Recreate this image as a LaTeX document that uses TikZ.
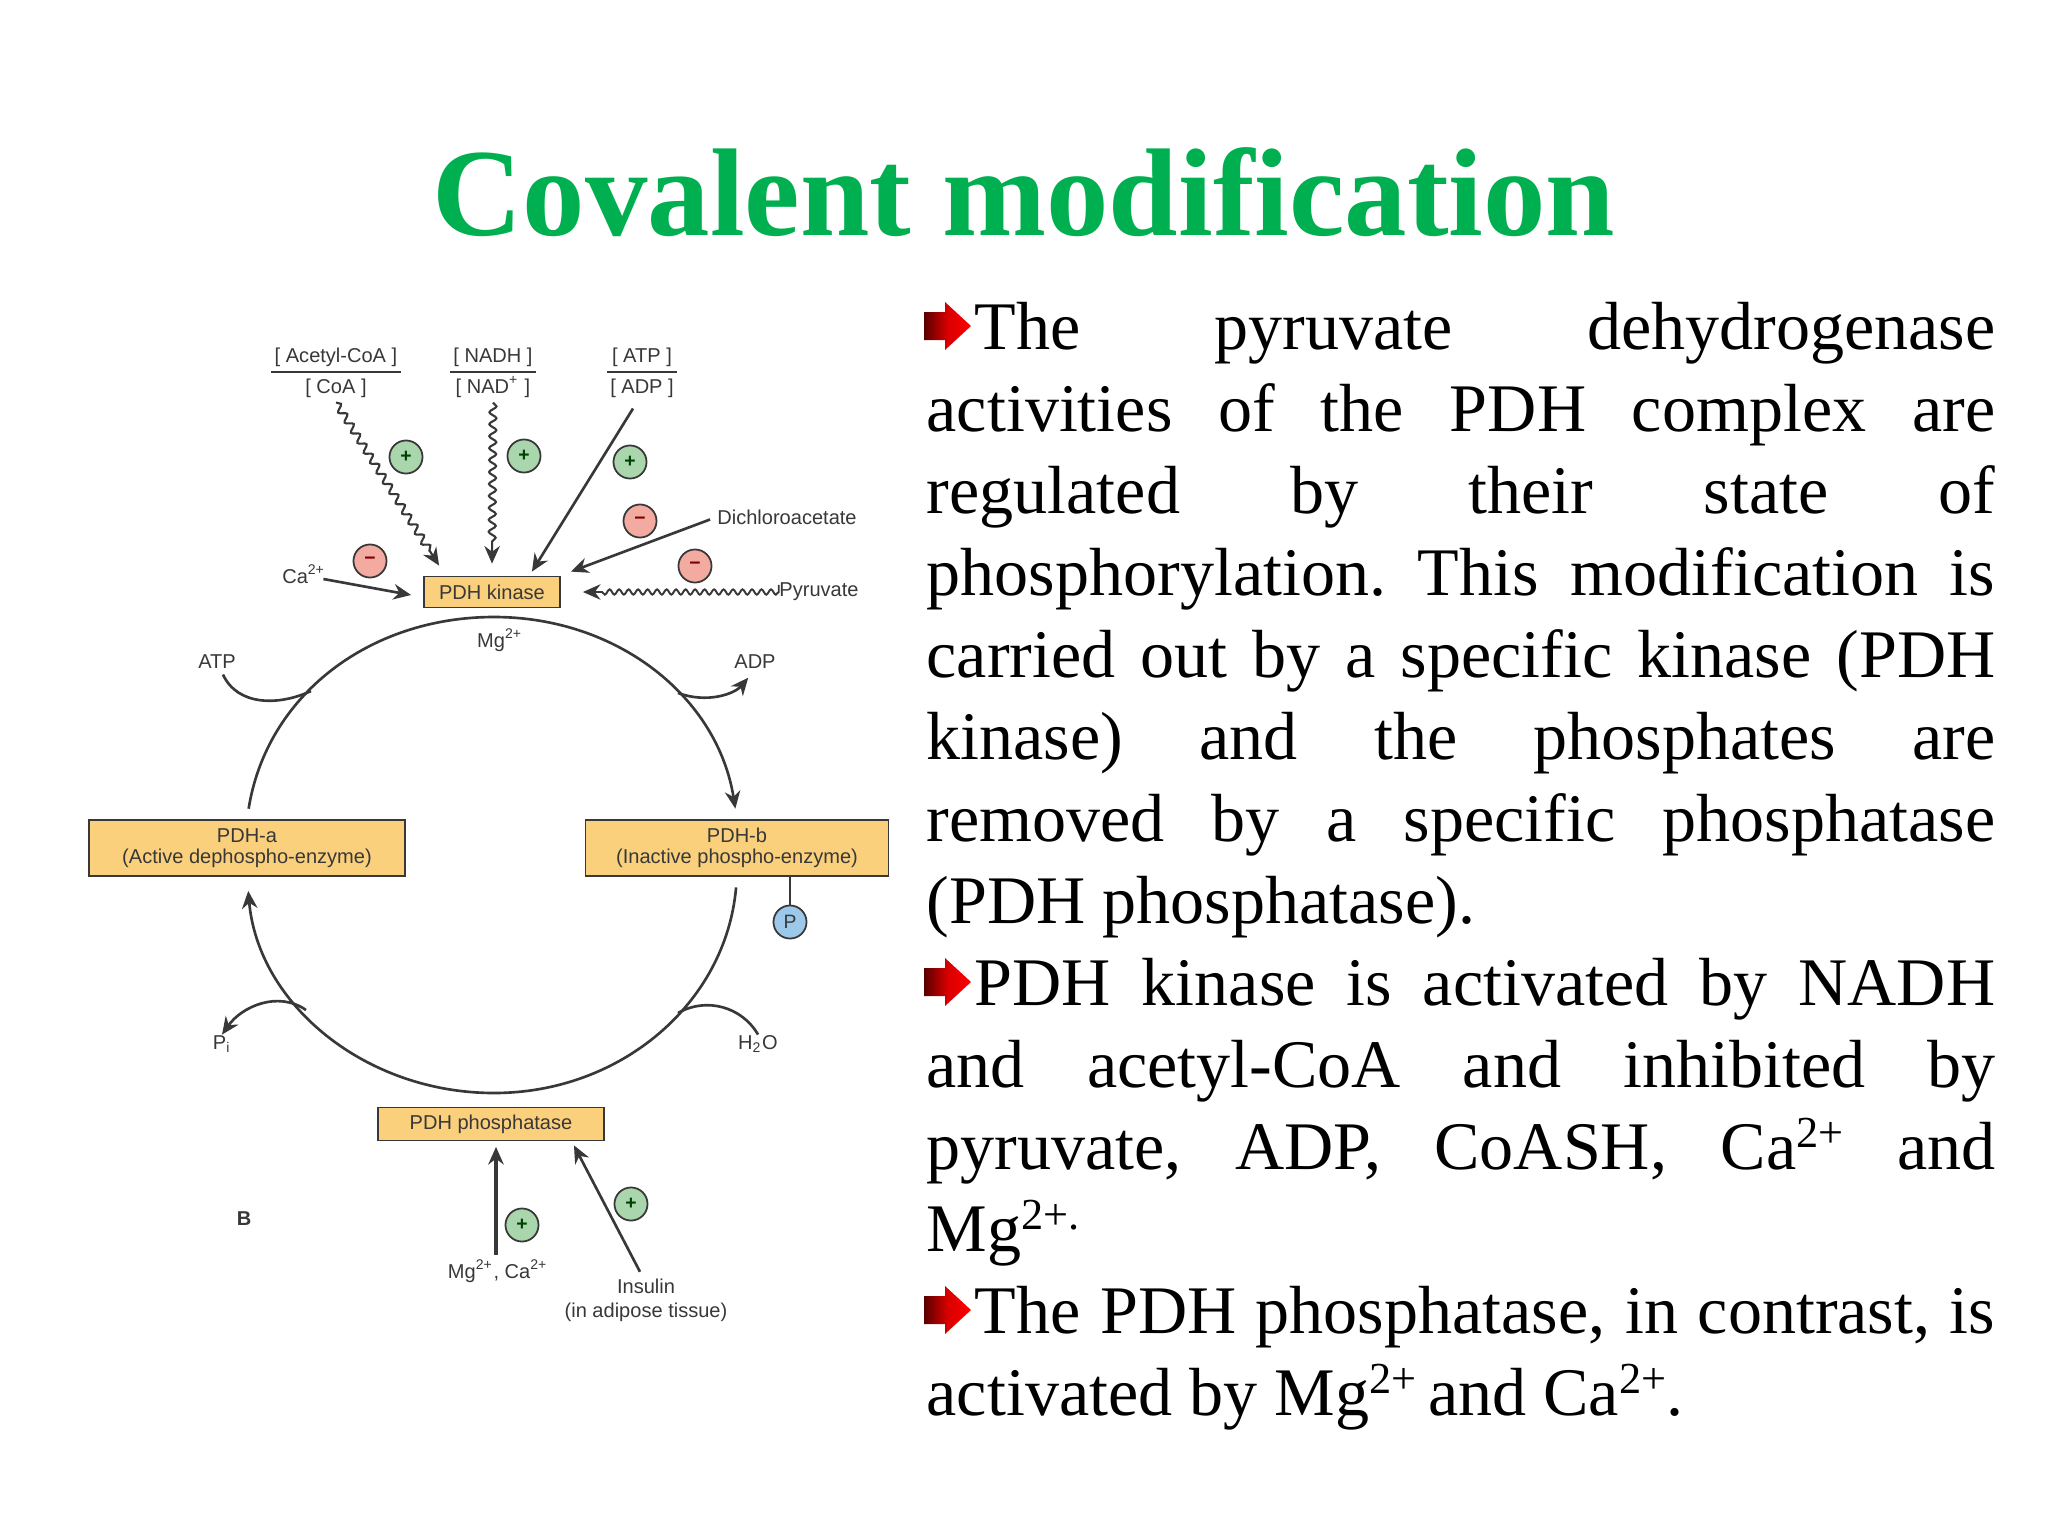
\documentclass[tikz,border=0pt]{standalone}
\usepackage{fontspec}
\setmainfont{Liberation Serif}
\newfontfamily\labelfont{Liberation Sans}
\usetikzlibrary{arrows.meta}
\usetikzlibrary{decorations.pathmorphing}
\definecolor{titlegreen}{HTML}{00B050}
\definecolor{boxfill}{HTML}{FAD07C}
\definecolor{inkgray}{HTML}{383838}
\definecolor{plusfill}{HTML}{A9D6AC}
\definecolor{minusfill}{HTML}{F3AAA0}
\definecolor{phosfill}{HTML}{9CC8EA}
\newcommand{\bodysup}[1]{\raisebox{0.32em}{\fontsize{12.6}{14}\selectfont #1}}
\tikzset{enzbox/.style={draw=inkgray, line width=0.5pt, fill=boxfill, inner sep=0pt, align=center, font=\labelfont\fontsize{5.7}{6.1}\selectfont, text=inkgray}}
\tikzset{lbl/.style={inner sep=0pt, align=center, font=\labelfont\fontsize{5.7}{6.9}\selectfont, text=inkgray}}
\tikzset{sign/.style={circle, draw=inkgray, line width=0.5pt, inner sep=0pt, minimum size=9.4pt, font=\labelfont\bfseries\fontsize{5.5}{5.5}\selectfont}}
\tikzset{plussign/.style={sign, fill=plusfill, text=green!25!black}}
\tikzset{minussign/.style={sign, fill=minusfill, text=red!50!black}}
\tikzset{conn/.style={draw=inkgray, line width=0.75pt}}
\tikzset{arr/.style={conn, -{Stealth[length=5pt,width=4.4pt]}}}
\tikzset{wavy/.style={arr, line width=0.6pt, decorate, decoration={snake, segment length=3.4pt, amplitude=1pt, post length=5pt}}}
\tikzset{thinwavy/.style={arr, line width=0.55pt, decorate, decoration={snake, segment length=2.7pt, amplitude=0.75pt, post length=5pt}}}

\begin{document}
\begin{tikzpicture}[x=0.01cm, y=-0.01cm]
		\useasboundingbox[fill=white] (0,0) rectangle (2048,1536);
		\node[inner sep=0pt, anchor=base, text=titlegreen, font=\bfseries\fontsize{35.5}{40}\selectfont] (title) at (1024,235) {Covalent modification};
		% enzymes
		\node[enzbox, minimum width=1.36cm, minimum height=0.31cm] (kinase) at (492,592) {PDH kinase};
		\node[enzbox, minimum width=3.16cm, minimum height=0.56cm] (pdha) at (247,848) {PDH-a\\(Active dephospho-enzyme)};
		\node[enzbox, minimum width=3.03cm, minimum height=0.56cm] (pdhb) at (737,848) {PDH-b\\(Inactive phospho-enzyme)};
		\node[enzbox, minimum width=2.26cm, minimum height=0.33cm] (phosphatase) at (491,1124) {PDH phosphatase};
		% cycle
		\coordinate (arctop) at (494,617);
		\coordinate (arcbottom) at (494,1093);
		\draw[arr, shorten <=3pt, shorten >=3pt] (pdha.north) to[out=81,in=180] (arctop) to[out=0,in=99] (pdhb.north);
		\draw[arr, shorten <=3pt, shorten >=4pt] (pdhb.south) to[out=-95,in=0] (arcbottom) to[out=180,in=-85] (pdha.south);
		% side reactions
		\node[lbl] (atp) at (217,662) {ATP};
		\node[lbl] (adp) at (755,662) {ADP};
		\node[lbl] (pi) at (222,1044) {P\textsubscript{i}};
		\node[lbl] (water) at (758,1044) {H\textsubscript{2}O};
		\node[lbl] (mgtop) at (500,640) {Mg\textsuperscript{2+}};
		\coordinate (atpjoin) at (311,691);
		\coordinate (adpjoin) at (678,693);
		\coordinate (pijoin) at (306,1010);
		\coordinate (waterjoin) at (678,1013);
		\draw[conn] ([shift={(6,5)}]atp.south) to[out=-65,in=205] (atpjoin);
		\draw[arr, shorten >=3pt] (adpjoin) to[out=-20,in=230] (adp.south);
		\draw[arr] (pijoin) to[out=145,in=55] (pi.north);
		\draw[conn] (water.north) to[out=120,in=30] (waterjoin);
		% kinase regulators
		\renewcommand{\arraystretch}{1.2}
		\node[lbl] (acetyl) at (336,372) {\tabcolsep=1pt\begin{tabular}{c}[ Acetyl-CoA ]\\\hline [ CoA ]\end{tabular}};
		\node[lbl] (nadh) at (493,372) {\tabcolsep=1pt\begin{tabular}{c}[ NADH ]\\\hline [ NAD\textsuperscript{+} ]\end{tabular}};
		\node[lbl] (atpadp) at (642,372) {\tabcolsep=1pt\begin{tabular}{c}[ ATP ]\\\hline [ ADP ]\end{tabular}};
		\node[lbl] (dca) at (787,517) {Dichloroacetate};
		\node[lbl] (pyruvate) at (819,592) {Pyruvate};
		\node[lbl] (calcium) at (304,574) {Ca\textsuperscript{2+}};
		\draw[wavy] (acetyl.south) -- ([shift={(16,-10)}]kinase.north west);
		\draw[wavy] (nadh.south) -- ([yshift=0.12cm]kinase.north);
		\draw[arr] ([shift={(-9,6)}]atpadp.south) -- ([shift={(-29,-4)}]kinase.north east);
		\draw[arr, shorten <=2pt] (dca.west) -- ([shift={(10,-4)}]kinase.north east);
		\draw[thinwavy, shorten <=2pt] (pyruvate.west) -- ([xshift=0.22cm]kinase.east);
		\draw[arr] ([shift={(-3,5)}]calcium.east) -- ([xshift=-0.12cm, yshift=-0.03cm]kinase.west);
		\node[plussign] (plusa) at (406,457) {+};
		\node[plussign] (plusb) at (524,456) {+};
		\node[plussign] (plusc) at (630,462) {+};
		\node[minussign] (minusa) at (640,521) {−};
		\node[minussign] (minusb) at (695,566) {−};
		\node[minussign] (minusc) at (370,561) {−};
		% phosphate
		\node[sign, fill=phosfill, minimum size=9.4pt, text=inkgray, font=\labelfont\fontsize{5.5}{5.5}\selectfont] (phos) at (790,922) {P};
		\draw[conn, line width=0.5pt] (phos.north) -- (phos |- pdhb.south);
		% phosphatase regulators
		\node[lbl] (mgca) at (498,1271) {Mg\textsuperscript{2+}, Ca\textsuperscript{2+}};
		\node[lbl] (insulin) at (646,1300) {Insulin\\(in adipose tissue)};
		\node[lbl, font=\labelfont\bfseries\fontsize{5.7}{7}\selectfont] (panel) at (244,1219) {B};
		\draw[arr, line width=0.9pt] (mgca.north -| phosphatase.south) ++(5,-4) -- ++(0,-108);
		\draw[arr] ([shift={(-6,-6)}]insulin.north) -- ([shift={(-31,4)}]phosphatase.south east);
		\node[plussign] (plusd) at (522,1225) {+};
		\node[plussign] (pluse) at (631,1204) {+};
		% text
		\node[inner sep=0pt, anchor=north west, text width=10.68cm, align=justify, font=\fontsize{19.36}{23.3}\selectfont] (body) at (926,302) {\sloppy\frenchspacing
			\hspace*{0.48cm}The pyruvate dehydrogenase\linebreak
			activities of the PDH complex are\linebreak
			regulated by their state of\linebreak
			phosphorylation. This modification is\linebreak
			carried out by a specific kinase (PDH\linebreak
			kinase) and the phosphates are\linebreak
			removed by a specific phosphatase\linebreak
			(PDH phosphatase).\par
			\hspace*{0.48cm}PDH kinase is activated by NADH\linebreak
			and acetyl-CoA and inhibited by\linebreak
			pyruvate, ADP, CoASH, Ca\bodysup{2+} and\linebreak
			Mg\bodysup{2+.}\par
			\hspace*{0.48cm}The PDH phosphatase, in contrast, is\linebreak
			activated by Mg\bodysup{2+}\kern0.12cm and Ca\bodysup{2+}.};
		% bullets
		\foreach \bulletY in {326,982,1310} {
			\shade[left color=red!35!black, right color=red, middle color=red!85!black, shift={(924,\bulletY)}] (0,-14) -- (21,-14) -- (21,-24) -- (47,0) -- (21,24) -- (21,14) -- (0,14) -- cycle;
		}
\end{tikzpicture}
\end{document}
